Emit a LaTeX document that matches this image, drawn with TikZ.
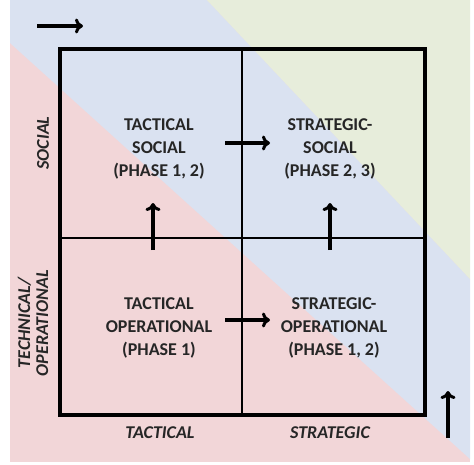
\documentclass[tikz,border=0pt]{standalone}
\usepackage{fontspec}
\setmainfont{Carlito}
\usetikzlibrary{arrows.meta}
\begin{document}
\begin{tikzpicture}[x=1pt,y=-1pt,
  lbl/.style={font=\bfseries\fontsize{18}{23}\selectfont,align=center,text=black!85},
  axl/.style={font=\bfseries\itshape\fontsize{18}{18}\selectfont,align=center,text=black!85},
  arr/.style={-{To[length=8pt,width=15pt,line width=3pt]},line width=3.4pt}]
\definecolor{pk}{HTML}{F2D6D8}
\definecolor{bl}{HTML}{DAE2F1}
\definecolor{gr}{HTML}{E7EDDB}
\useasboundingbox (0,0) rectangle (474,464);
\fill[white] (0,0) rectangle (474,464);
\fill[pk] (10,0) rectangle (470,462);
\fill[bl] (10,0) -- (207,0) -- (470,279) -- (470,459) -- (10,43) -- cycle;
\fill[gr] (207,0) -- (470,0) -- (470,279) -- cycle;
\draw[line width=3.2pt] (60,49) rectangle (425,415);
\draw[line width=1.8pt] (242,49) -- (242,415) (60,238) -- (425,238);
\node[lbl] (tl) at (159,149) {TACTICAL\\SOCIAL\\(PHASE 1, 2)};
\node[lbl] (tr) at (330,149) {STRATEGIC-\\SOCIAL\\(PHASE 2, 3)};
\node[lbl] (bl) at (159,328) {TACTICAL\\OPERATIONAL\\(PHASE 1)};
\node[lbl] (br) at (334,328) {STRATEGIC-\\OPERATIONAL\\(PHASE 1, 2)};
\coordinate (a1) at (225,143); \coordinate (a2) at (270,143);
\coordinate (b1) at (225,320); \coordinate (b2) at (270,320);
\coordinate (c1) at (153,250); \coordinate (c2) at (153,203);
\coordinate (d1) at (330,250); \coordinate (d2) at (330,203);
\coordinate (e1) at (37,26); \coordinate (e2) at (83,26);
\coordinate (f1) at (448,438); \coordinate (f2) at (448,391);
\draw[arr] (a1) -- (a2);
\draw[arr] (b1) -- (b2);
\draw[arr] (c1) -- (c2);
\draw[arr] (d1) -- (d2);
\draw[arr] (e1) -- (e2);
\draw[arr] (f1) -- (f2);
\node[axl,rotate=90] (soc) at (43,143) {SOCIAL};
\node[axl,rotate=90] (tec) at (33,323) {TECHNICAL/\\OPERATIONAL};
\node[axl] (tac) at (160,433) {TACTICAL};
\node[axl] (str) at (330,433) {STRATEGIC};
\end{tikzpicture}
\end{document}
